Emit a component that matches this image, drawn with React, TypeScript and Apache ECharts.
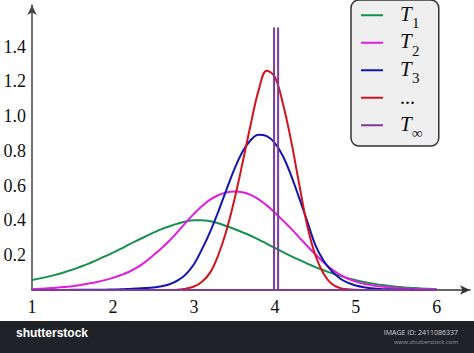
import React, { useEffect, useRef } from 'react';
import * as echarts from 'echarts';

const xValues = [
  1.0, 1.1, 1.2, 1.3, 1.4, 1.5, 1.6, 1.7, 1.8, 1.9,
  2.0, 2.1, 2.2, 2.3, 2.4, 2.5, 2.6, 2.7, 2.8, 2.9,
  3.0, 3.1, 3.2, 3.3, 3.4, 3.5, 3.6, 3.7, 3.8, 3.9,
  4.0, 4.1, 4.2, 4.3, 4.4, 4.5, 4.6, 4.7, 4.8, 4.9,
  5.0, 5.1, 5.2, 5.3, 5.4, 5.5, 5.6, 5.7, 5.8, 5.9, 6.0,
];

const t1Values = [
  0.058, 0.067, 0.077, 0.089, 0.102, 0.117, 0.134, 0.152, 0.172, 0.193,
  0.215, 0.238, 0.262, 0.285, 0.308, 0.33, 0.35, 0.367, 0.382, 0.394,
  0.401, 0.402, 0.396, 0.384, 0.368, 0.351, 0.332, 0.312, 0.29, 0.266,
  0.242, 0.218, 0.195, 0.173, 0.152, 0.132, 0.114, 0.097, 0.082, 0.068,
  0.056, 0.046, 0.037, 0.03, 0.024, 0.019, 0.015, 0.012, 0.009, 0.007, 0.005,
];

const t2Values = [
  0.005, 0.007, 0.01, 0.013, 0.017, 0.022, 0.029, 0.037, 0.046, 0.057,
  0.07, 0.086, 0.105, 0.13, 0.162, 0.2, 0.24, 0.285, 0.335, 0.388,
  0.438, 0.483, 0.52, 0.545, 0.561, 0.567, 0.562, 0.547, 0.522, 0.487,
  0.445, 0.4, 0.353, 0.303, 0.253, 0.205, 0.16, 0.12, 0.09, 0.066,
  0.048, 0.036, 0.027, 0.02, 0.015, 0.011, 0.008, 0.006, 0.005, 0.004, 0.003,
];

const t3Values = [
  0, 0, 0, 0, 0, 0.001, 0.001, 0.001, 0.002, 0.002,
  0.003, 0.004, 0.006, 0.008, 0.011, 0.015, 0.021, 0.033, 0.055, 0.09,
  0.148, 0.235, 0.335, 0.45, 0.575, 0.695, 0.795, 0.862, 0.893, 0.885,
  0.845, 0.77, 0.66, 0.53, 0.395, 0.258, 0.17, 0.11, 0.068, 0.042,
  0.026, 0.016, 0.01, 0.006, 0.004, 0.002, 0.001, 0.001, 0, 0, 0,
];

const t4Values = [
  0, 0, 0, 0, 0, 0, 0, 0, 0, 0,
  0, 0, 0, 0, 0, 0, 0, 0, 0.002, 0.008,
  0.02, 0.048, 0.1, 0.2, 0.34, 0.52, 0.73, 0.95, 1.15, 1.262,
  1.225, 1.07, 0.86, 0.61, 0.37, 0.2, 0.095, 0.036, 0.012, 0.004,
  0.001, 0, 0, 0, 0, 0, 0, 0, 0, 0, 0,
];

// limit curve: a flat baseline with a narrow spike at x = 4
const tInfX = [1, 3.99, 3.99, 4.015, 4.04, 4.04, 6];
const tInfY: (number | string)[] = [0, 0, 1.51, '-', 1.51, 0, 0];

const seriesNames = ['T1', 'T2', 'T3', '...', 'T∞'];
const legendMain = ['T', 'T', 'T', '...', 'T'];
const legendSub = ['1', '2', '3', '', '∞'];
const seriesColors = ['#16904c', '#e01ee0', '#1014b4', '#d4141c', '#7d3a98'];
const yTickLabels = ['0.2', '0.4', '0.6', '0.8', '1.0', '1.2', '1.4'];
const xTickLabels = ['1', '2', '3', '4', '5', '6'];

export default function App() {
  const ref = useRef<HTMLDivElement>(null);

  useEffect(() => {
    document.body.style.margin = '0';
    const chart = echarts.init(ref.current!, null, { renderer: 'svg' });
    const curves = [t1Values, t2Values, t3Values, t4Values];
    const series: any[] = curves.map((vals, i) => ({
      name: seriesNames[i],
      type: 'line',
      data: xValues.map((x, j) => [x, vals[j]]),
      smooth: 0.4,
      showSymbol: false,
      lineStyle: { width: 2, color: seriesColors[i] },
      itemStyle: { color: seriesColors[i] },
    }));
    series.push({
      name: seriesNames[4],
      type: 'line',
      data: tInfX.map((x, j) => [x, tInfY[j]]),
      connectNulls: false,
      showSymbol: false,
      lineStyle: { width: 2, color: seriesColors[4] },
      itemStyle: { color: seriesColors[4] },
    });

    const serif = 'Liberation Serif';
    // legend rows: top padding + half row height, then a fixed pitch
    const legendTop = 0;
    const padTop = 1.5;
    const rowH = 27.5;
    const rowCenter = (i: number) => legendTop + padTop + rowH / 2 + rowH * i;
    const textX = 400;

    const legendTexts: any[] = [];
    seriesNames.forEach((_, i) => {
      const cy = rowCenter(i);
      if (legendSub[i] === '') {
        legendTexts.push({
          type: 'text',
          x: textX,
          y: cy - 0.5,
          z: 110,
          style: {
            text: legendMain[i],
            fill: '#111',
            font: `20px "${serif}"`,
            verticalAlign: 'middle',
          },
        });
      } else {
        legendTexts.push({
          type: 'text',
          x: textX,
          y: cy - 1.5,
          z: 110,
          style: {
            text: legendMain[i],
            fill: '#111',
            font: `italic 21px "${serif}"`,
            verticalAlign: 'middle',
          },
        });
        legendTexts.push({
          type: 'text',
          x: textX + 12,
          y: cy + 8,
          z: 110,
          style: {
            text: legendSub[i],
            fill: '#111',
            font: `15px "${serif}"`,
            verticalAlign: 'middle',
          },
        });
      }
    });

    chart.setOption({
      animation: false,
      backgroundColor: '#ffffff',
      grid: { left: 32, right: 4, top: 5, bottom: 63 },
      xAxis: {
        type: 'value',
        min: 1,
        max: 6.41,
        interval: 1,
        axisLine: {
          show: true,
          onZero: false,
          symbol: ['none', 'arrow'],
          symbolSize: [7, 10],
          lineStyle: { color: '#333', width: 1.5 },
        },
        axisTick: { show: false },
        splitLine: { show: false },
        axisLabel: {
          fontFamily: serif,
          fontSize: 18,
          color: '#111',
          margin: 8,
          formatter: (v: number) => {
            const s = String(v);
            return xTickLabels.includes(s) ? s : '';
          },
        },
      },
      yAxis: {
        type: 'value',
        min: 0,
        max: 1.64,
        interval: 0.2,
        axisLine: {
          show: true,
          symbol: ['none', 'arrow'],
          symbolSize: [7, 10],
          lineStyle: { color: '#444', width: 1.5 },
        },
        axisTick: { show: false },
        splitLine: { show: false },
        axisLabel: {
          fontFamily: serif,
          fontSize: 18,
          color: '#111',
          margin: 6,
          formatter: (v: number) => {
            const s = v.toFixed(1);
            return yTickLabels.includes(s) ? s : '';
          },
        },
      },
      legend: {
        orient: 'vertical',
        left: 351,
        top: legendTop,
        itemWidth: 22,
        itemHeight: 2,
        itemGap: 0,
        icon: 'rect',
        padding: [padTop, 48, 7, 10],
        backgroundColor: '#efefef',
        borderColor: '#333',
        borderWidth: 1.5,
        borderRadius: 8,
        data: seriesNames,
        formatter: () => ' ',
        textStyle: { fontSize: 10, lineHeight: rowH, color: '#111' },
      },
      graphic: [
        ...legendTexts,
        {
          type: 'rect',
          left: 0,
          top: 321,
          shape: { width: 474, height: 32 },
          style: { fill: '#1f2328' },
          z: 100,
        },
        {
          type: 'text',
          left: 16,
          top: 327,
          style: {
            text: 'shutterstock',
            fill: '#ffffff',
            font: 'bold 12px "Liberation Sans", sans-serif',
          },
          z: 101,
        },
        {
          type: 'text',
          right: 16,
          top: 329,
          style: {
            text: 'IMAGE ID: 2411086337',
            fill: '#d0d0d0',
            font: '7px "Open Sans", sans-serif',
          },
          z: 101,
        },
        {
          type: 'text',
          right: 16,
          top: 339,
          style: {
            text: 'www.shutterstock.com',
            fill: '#9a9a9a',
            font: '6px "Open Sans", sans-serif',
          },
          z: 101,
        },
      ],
      series,
    });
    return () => chart.dispose();
  }, []);

  return <div ref={ref} style={{ width: 474, height: 353 }} />;
}
